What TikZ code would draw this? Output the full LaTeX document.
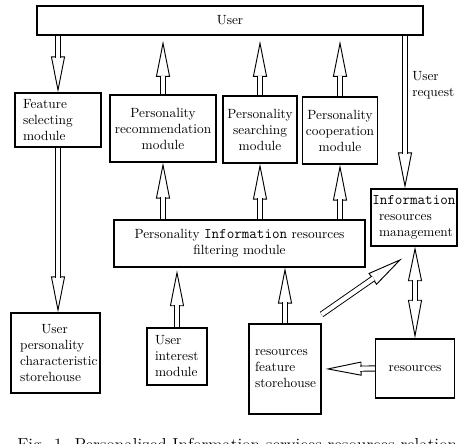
\documentclass[tikz,border=0pt]{standalone}
\usepackage{tikz}
\usetikzlibrary{arrows.meta,calc}

\tikzset{
  modbox/.style={draw, line width=0.8pt, inner sep=1pt, align=center, font=\normalsize},
  leftbox/.style={modbox, align=left},
  blk/.style={line width=0.7pt, shorten >=#1, -{Triangle[open, fill=white, length=27pt, width=10.5pt]},
    postaction={draw, double, double distance=3.2pt, -, shorten >={#1+26pt}}},
  blk/.default=0pt,
  blkboth/.style={line width=0.7pt, {Triangle[open, fill=white, length=26pt, width=10.5pt]}-{Triangle[open, fill=white, length=29pt, width=10.5pt]},
    postaction={draw, double, double distance=3.2pt, -, shorten <=25pt, shorten >=28pt}},
}
\newcommand{\infoword}{{\fontsize{11}{12}\ttfamily Information}}

\begin{document}
\begin{tikzpicture}[x=0.75pt,y=0.75pt,yscale=-1,xscale=1]
        \useasboundingbox (0,0) rectangle (474,443);
        \clip (0,0) rectangle (474,443);
        % top box
        \node[modbox, minimum width=289.5pt, minimum height=21.75pt] (user) at (230,20.5) {User};
        % modules under the user
        \node[leftbox, text width=52.5pt, inner xsep=6pt, minimum height=40.5pt] (feat) at (58,120) {Feature\\selecting\\module};
        \node[modbox, minimum width=79.5pt, minimum height=50.25pt] (recom) at (163,128.5) {Personality\\recommendation\\module};
        \node[modbox, minimum width=55.5pt, minimum height=50.25pt] (search) at (260,129.5) {Personality\\searching\\module};
        \node[modbox, minimum width=56.25pt, minimum height=50.25pt] (coop) at (340,130.5) {Personality\\cooperation\\module};
        \node[leftbox, text width=62.5pt, inner xsep=1pt, minimum height=42.75pt] (irm) at (414,217.5) {\infoword\\\hspace*{5pt}resources\\\hspace*{5pt}management};
        % filtering module
        \node[modbox, minimum width=188.25pt, minimum height=35.25pt] (filt) at (239.5,243.5) {Personality \infoword{} resources\\filtering module};
        % bottom row
        \node[leftbox, text width=53.25pt, inner xsep=6.75pt, minimum height=60pt] (upcs) at (55.5,353) {\hspace*{16pt}User\\personality\\characteristic\\storehouse};
        \node[leftbox, text width=33pt, inner xsep=6pt, minimum height=42.75pt] (uim) at (177,356.5) {User\\interest\\module};
        \node[leftbox, text width=45pt, inner xsep=4.5pt, minimum height=67.5pt] (rfs) at (285,369) {resources\\feature\\storehouse};
        \node[modbox, minimum width=59.25pt, minimum height=44.25pt] (res) at (415,368.5) {resources};
        % labels
        \node[anchor=north west, align=left, inner sep=0pt] (ureq) at (412,71) {User\\request};
        \node[anchor=base west, inner sep=0pt, font=\fontsize{13}{15}\selectfont] (cap) at (17,450) {Fig. 1. Personalized Information services resources relation};
        % arrows
        \coordinate (reqbot) at ($(irm.north)+(-9,0)$);
        \coordinate (diagA) at ($(rfs.north east)+(0,-9)$);
        \coordinate (diagB) at ($(irm.south)+(-12,12)$);
        \draw[blk] (user.south -| feat.north) -- (feat.north);
        \draw[blk] (feat.south) -- (feat.south |- upcs.north);
        \draw[blk=4pt] (recom.north) -- (recom.north |- user.south);
        \draw[blk=4pt] (search.north) -- (search.north |- user.south);
        \draw[blk=4pt] (coop.north) -- (coop.north |- user.south);
        \draw[blk] (reqbot |- user.south) -- (reqbot);
        \draw[blk] (recom.south |- filt.north) -- (recom.south);
        \draw[blk] (search.south |- filt.north) -- (search.south);
        \draw[blk] (coop.south |- filt.north) -- (coop.south);
        \draw[blk=2pt] (uim.north) -- (uim.north |- filt.south);
        \draw[blk] (rfs.north) -- (rfs.north |- filt.south);
        \draw[blk] (diagA) -- (diagB);
        \draw[blkboth] (irm.south -| res.north) -- (res.north);
        \draw[blk=3pt] (res.west) -- (rfs.east);
\end{tikzpicture}
\end{document}
